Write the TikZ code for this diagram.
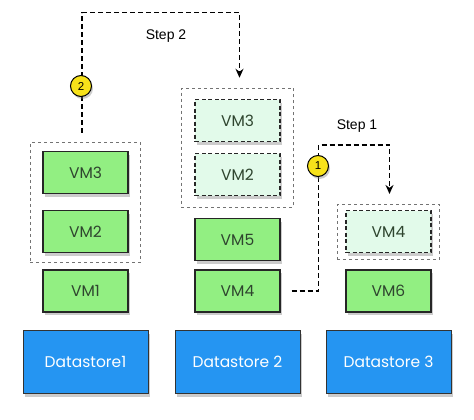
\documentclass[tikz,border=0pt]{standalone}
\usepackage{fontspec}
\setmainfont{Liberation Sans}
\newfontfamily\gothic{Poppins}
\usetikzlibrary{arrows.meta, positioning, fit, shadows}

\definecolor{vmgreen}{HTML}{92EF82}
\definecolor{vmghost}{HTML}{E2FAEA}
\definecolor{vmtext}{HTML}{2F452F}
\definecolor{storeblue}{HTML}{2595F2}
\definecolor{badgeyellow}{HTML}{F7E21A}

\begin{document}
\begin{tikzpicture}[x=1pt,y=-1pt,
    vm/.style={draw=black!85,line width=1.1pt,fill=vmgreen,text=vmtext,minimum width=85pt,minimum height=42pt,inner sep=0pt,
      font=\gothic\fontsize{15.5}{18}\selectfont,drop shadow={shadow xshift=2pt,shadow yshift=-3pt,opacity=.4}},
    ghost/.style={vm,fill=vmghost,dashed,dash pattern=on 4pt off 2.5pt},
    store/.style={draw=black!80,line width=1pt,fill=storeblue,text=white,minimum width=125pt,minimum height=63pt,inner sep=0pt,
      font=\gothic\fontsize{15.5}{18}\selectfont,drop shadow={shadow xshift=2pt,shadow yshift=-4pt,opacity=.4}},
    group/.style={draw=black!55,line width=.7pt,dash pattern=on 3pt off 3pt,inner sep=0pt},
    link/.style={draw=black,line width=1.2pt,dash pattern=on 5pt off 3pt,-{Stealth[length=9pt,width=8pt]}},
    badge/.style={circle,draw=black,line width=1pt,fill=badgeyellow,minimum size=21pt,inner sep=0pt,
      font=\fontsize{11.5}{13}\selectfont,drop shadow={shadow xshift=1.5pt,shadow yshift=-2.5pt,opacity=.4}},
    steplabel/.style={font=\fontsize{14}{16}\selectfont}]

    \useasboundingbox (0,0) rectangle (474,420);

    % datastores
    \node[store] (ds1) at (85.5,361.5) {Datastore1};
    \node[store] (ds2) at (237.5,361.5) {Datastore 2};
    \node[store] (ds3) at (388.5,361.5) {Datastore 3};

    % datastore 1
    \node[vm] (vm1) [above=17pt of ds1] {VM1};
    \node[vm] (vm2a) [above=16pt of vm1] {VM2};
    \node[vm] (vm3a) [above=16pt of vm2a] {VM3};

    % datastore 2
    \node[vm] (vm4a) [above=17pt of ds2] {VM4};
    \node[vm] (vm5) [above=8pt of vm4a] {VM5};
    \node[ghost] (vm2b) [above=22pt of vm5] {VM2};
    \node[ghost] (vm3b) [above=11pt of vm2b] {VM3};

    % datastore 3
    \node[vm] (vm6) [above=17pt of ds3] {VM6};
    \node[ghost] (vm4b) [above=16pt of vm6] {VM4};

    % groups
    \node[group,fit=(vm3a)(vm2a),inner xsep=12pt,inner ysep=9pt] (grpA) {};
    \node[group,fit=(vm3b)(vm2b),inner xsep=13pt,inner ysep=11pt] (grpB) {};
    \node[group,fit=(vm4b),inner xsep=8pt,inner ysep=6pt] (grpC) {};

    % moves
    \draw[link] ([xshift=-3.5pt,yshift=9pt]grpA.north) -- ++(0,-120) -| ([xshift=2pt,yshift=10pt]grpB.north);
    \draw[link] ([xshift=11pt]vm4a.east) -- ++(27,0) -- ++(0,-146) -| ([xshift=1pt,yshift=10pt]grpC.north);

    \node[badge] (b2) at (81,86) {2};
    \node[badge] (b1) at (318,166) {1};
    \node[steplabel] (s2) at (166,36) {Step 2};
    \node[steplabel] (s1) at (357,126) {Step 1};
\end{tikzpicture}
\end{document}
